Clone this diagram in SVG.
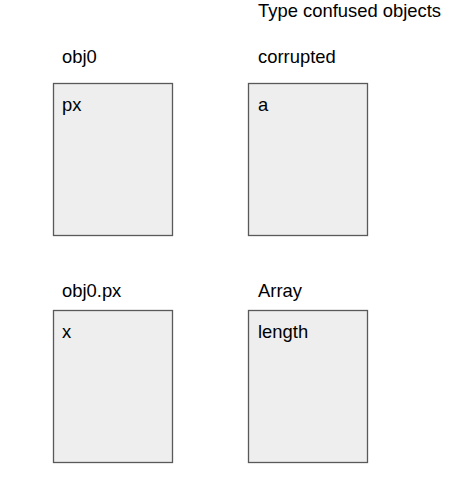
<svg xmlns="http://www.w3.org/2000/svg" width="453" height="487" viewBox="0 0 453 487">
<style>
.box{fill:#eeeeee;stroke:#595959;stroke-width:1.3}
text{font-family:"Liberation Sans",Arial,sans-serif;font-size:18.4px;fill:#000}
</style>
<rect width="453" height="487" fill="#fff"/>
<g id="title"><text x="258" y="16.5">Type confused objects</text></g>
<g id="obj0">
<text x="62" y="62.5">obj0</text>
<rect class="box" x="53.5" y="83.5" width="119" height="152"/>
<text x="62" y="110.5">px</text>
</g>
<g id="corrupted">
<text x="258" y="62.5">corrupted</text>
<rect class="box" x="248.5" y="83.5" width="119" height="152"/>
<text x="258" y="110.5">a</text>
</g>
<g id="obj0px">
<text x="62" y="296.5">obj0.px</text>
<rect class="box" x="53.5" y="310.5" width="119" height="152"/>
<text x="62" y="337.5">x</text>
</g>
<g id="array">
<text x="258" y="296.5">Array</text>
<rect class="box" x="248.5" y="310.5" width="119" height="152"/>
<text x="258" y="337.5">length</text>
</g>
<g id="connectors"/>
</svg>
